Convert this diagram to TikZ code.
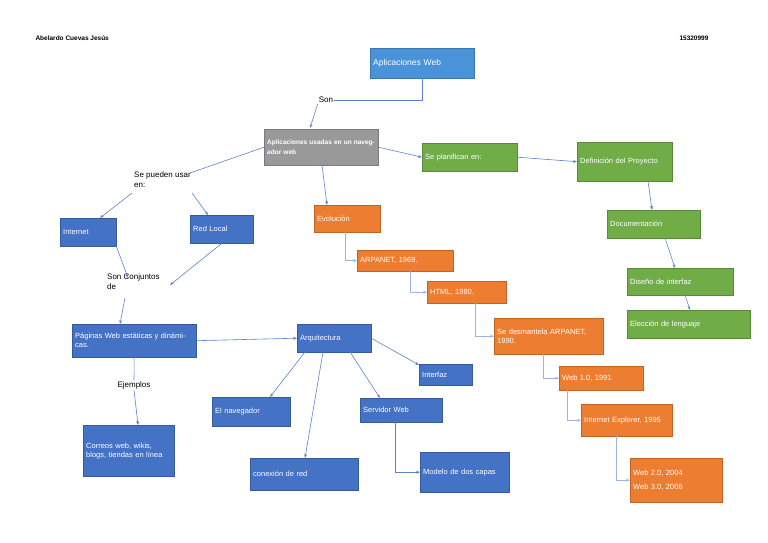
\documentclass[tikz,border=0pt]{standalone}
\usepackage{fontspec}
\setmainfont{Liberation Sans}
\usetikzlibrary{arrows.meta}
\definecolor{bl}{HTML}{4472C4}
\definecolor{gr}{HTML}{70AD47}
\definecolor{orr}{HTML}{ED7D31}
\definecolor{ln}{HTML}{5B84C8}
\definecolor{gy}{HTML}{999999}
\definecolor{lbl}{HTML}{4A93D8}
\tikzset{
 bx/.style={draw=#1!80!black,fill=#1,text=white,anchor=north west,align=left,inner sep=3pt,font=\fontsize{7.5}{9}\selectfont},
 b/.style={bx=bl},g/.style={bx=gr},o/.style={bx=orr},
 lab/.style={font=\fontsize{8}{9.5}\selectfont,align=left,inner sep=1pt},
 ar/.style={draw=ln,line width=0.6pt,-{Stealth[length=4pt,width=3pt]}},
 pl/.style={draw=ln,line width=0.6pt},
}
\begin{document}
\begin{tikzpicture}[x=1pt,y=-1pt]
\useasboundingbox[fill=white] (0,0) rectangle (768,543);
% header
\node[font=\fontsize{6.5}{8}\selectfont\bfseries,anchor=west] (h1) at (32,38) {Abelardo Cuevas Jesús};
\node[font=\fontsize{6.5}{8}\selectfont\bfseries,anchor=west] (h2) at (676,38) {15320999};
% boxes
\node[bx=lbl,minimum width=104,minimum height=30,text width=98,font=\fontsize{8.5}{10}\selectfont] (aw) at (370,48) {Aplicaciones Web};
\node[bx=gy,minimum width=114,minimum height=36,text width=108,font=\fontsize{6.5}{10}\selectfont\bfseries] (au) at (264,129) {Aplicaciones usadas en un navegador web};
\node[g,minimum width=95,minimum height=28,text width=89] (sp) at (422,143) {Se planifican en:};
\node[g,minimum width=95,minimum height=39,text width=89] (dp) at (577,142) {Definición del Proyecto};
\node[g,minimum width=93,minimum height=28,text width=87] (doc) at (607,210) {Documentación};
\node[g,minimum width=106,minimum height=27,text width=100] (di) at (627,268) {Diseño de interfaz};
\node[g,minimum width=123,minimum height=28,text width=117] (el) at (627,310) {Elección de lenguaje};
\node[o,minimum width=66,minimum height=27,text width=60] (ev) at (314,205) {Evolución};
\node[o,minimum width=96,minimum height=21,text width=90] (a69) at (357,250) {ARPANET, 1969.};
\node[o,minimum width=79,minimum height=22,text width=73] (h80) at (427,281) {HTML, 1980.};
\node[o,minimum width=109,minimum height=36,text width=103] (sd) at (494,318) {Se desmantela ARPANET, 1990.};
\node[o,minimum width=84,minimum height=24,text width=78] (w1) at (559,366) {Web 1.0, 1991};
\node[o,minimum width=91,minimum height=32,text width=85] (ie) at (581,404) {Internet Explorer, 1995};
\node[o,minimum width=92,minimum height=44,text width=86,font=\fontsize{7.5}{14}\selectfont] (w2) at (630,458) {Web 2.0, 2004\\Web 3.0, 2006};
\node[b,minimum width=56,minimum height=28,text width=50] (in) at (60,218) {Internet};
\node[b,minimum width=63,minimum height=28,text width=57] (rl) at (190,215) {Red Local};
\node[b,minimum width=124,minimum height=33,text width=118] (pw) at (72,324) {Páginas Web estáticas y dinámicas.};
\node[b,minimum width=74,minimum height=28,text width=68] (aq) at (297,324) {Arquitectura};
\node[b,minimum width=53,minimum height=21,text width=47] (itf) at (419,364) {Interfaz};
\node[b,minimum width=78,minimum height=29,text width=72] (nv) at (212,397) {El navegador};
\node[b,minimum width=82,minimum height=24,text width=76] (sw) at (360,398) {Servidor Web};
\node[b,minimum width=89,minimum height=40,text width=83] (md) at (420,452) {Modelo de dos capas};
\node[b,minimum width=108,minimum height=32,text width=102] (cr) at (250,458) {conexión de red};
\node[b,minimum width=91,minimum height=51,text width=85] (co) at (83,425) {Correos web, wikis, blogs, tiendas en línea};
% labels
\node[lab] (son) at (326,100) {Son};
\node[lab,anchor=north west] (spu) at (133,171) {Se pueden usar\\en:};
\node[lab,anchor=north west] (sc) at (106,273) {Son Conjuntos\\de};
\node[lab] (ej) at (134,385) {Ejemplos};
% connectors
\draw[pl] (aw.south) |- (son.east);
\draw[ar] (son.south west) -- (310,128);
\draw[ar] (au.east) -- (sp.west);
\draw[ar] (sp.east) -- (dp.west);
\draw[ar] (648,181) -- (652,210);
\draw[ar] (665,238) -- (675,268);
\draw[ar] (685,295) -- (690,310);
\draw[ar] (322,165) -- (327,205);
\draw[pl] (au.west) -- (190,173);
\draw[ar] (132,193) -- (100,218);
\draw[ar] (192,193) -- (208,215);
\draw[ar] (in.south east) -- (128,278);
\draw[ar] (rl.south) -- (170,285);
\draw[ar] (125,298) -- (120,324);
\draw[ar] (pw.east) -- (aq.west);
\draw[pl] (pw.south) -- (ej.north);
\draw[ar] (ej.south) -- (138,425);
\draw[ar] (305,352) -- (270,397);
\draw[ar] (323,352) -- (305,458);
\draw[ar] (350,352) -- (380,398);
\draw[ar] (aq.east) -- (419,365);
\draw[ar] (395,422) |- (md.west);
\draw[ar,draw=ln!60] (345,232) |- (a69.west);
\draw[ar,draw=ln!60] (410,271) |- (h80.west);
\draw[ar,draw=ln!60] (475,303) |- (sd.west);
\draw[ar,draw=ln!60] (543,354) |- (w1.west);
\draw[ar,draw=ln!60] (567,390) |- (ie.west);
\draw[ar,draw=ln!60] (616,436) |- (w2.west);
\end{tikzpicture}
\end{document}
